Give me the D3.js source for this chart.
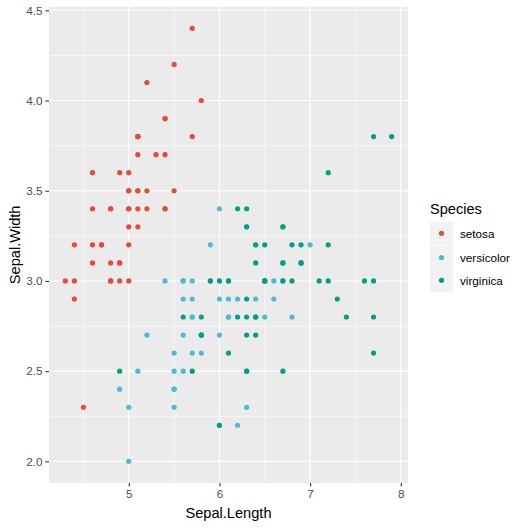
<!DOCTYPE html>
<html><head><meta charset="utf-8">
<script src="https://cdn.jsdelivr.net/npm/d3@7"></script>
<style>body{margin:0;background:#fff}svg{display:block}</style>
</head><body>
<svg id="c" width="528" height="528"></svg>
<script>
const species = ["setosa","versicolor","virginica"];
const colors = ["#E64B35","#4DBBD5","#00A087"];
const setosaLength = [5.1,4.9,4.7,4.6,5.0,5.4,4.6,5.0,4.4,4.9,5.4,4.8,4.8,4.3,5.8,5.7,5.4,5.1,5.7,5.1,5.4,5.1,4.6,5.1,4.8,5.0,5.0,5.2,5.2,4.7,4.8,5.4,5.2,5.5,4.9,5.0,5.5,4.9,4.4,5.1,5.0,4.5,4.4,5.0,5.1,4.8,5.1,4.6,5.3,5.0];
const setosaWidth = [3.5,3.0,3.2,3.1,3.6,3.9,3.4,3.4,2.9,3.1,3.7,3.4,3.0,3.0,4.0,4.4,3.9,3.5,3.8,3.8,3.4,3.7,3.6,3.3,3.4,3.0,3.4,3.5,3.4,3.2,3.1,3.4,4.1,4.2,3.1,3.2,3.5,3.6,3.0,3.4,3.5,2.3,3.2,3.5,3.8,3.0,3.8,3.2,3.7,3.3];
const versicolorLength = [7.0,6.4,6.9,5.5,6.5,5.7,6.3,4.9,6.6,5.2,5.0,5.9,6.0,6.1,5.6,6.7,5.6,5.8,6.2,5.6,5.9,6.1,6.3,6.1,6.4,6.6,6.8,6.7,6.0,5.7,5.5,5.5,5.8,6.0,5.4,6.0,6.7,6.3,5.6,5.5,5.5,6.1,5.8,5.0,5.6,5.7,5.7,6.2,5.1,5.7];
const versicolorWidth = [3.2,3.2,3.1,2.3,2.8,2.8,3.3,2.4,2.9,2.7,2.0,3.0,2.2,2.9,2.9,3.1,3.0,2.7,2.2,2.5,3.2,2.8,2.5,2.8,2.9,3.0,2.8,3.0,2.9,2.6,2.4,2.4,2.7,2.7,3.0,3.4,3.1,2.3,3.0,2.5,2.6,3.0,2.6,2.3,2.7,3.0,2.9,2.9,2.5,2.8];
const virginicaLength = [6.3,5.8,7.1,6.3,6.5,7.6,4.9,7.3,6.7,7.2,6.5,6.4,6.8,5.7,5.8,6.4,6.5,7.7,7.7,6.0,6.9,5.6,7.7,6.3,6.7,7.2,6.2,6.1,6.4,7.2,7.4,7.9,6.4,6.3,6.1,7.7,6.3,6.4,6.0,6.9,6.7,6.9,5.8,6.8,6.7,6.7,6.3,6.5,6.2,5.9];
const virginicaWidth = [3.3,2.7,3.0,2.9,3.0,3.0,2.5,2.9,2.5,3.6,3.2,2.7,3.0,2.5,2.8,3.2,3.0,3.8,2.6,2.2,3.2,2.8,2.8,2.7,3.3,3.2,2.8,3.0,2.8,3.0,2.8,3.8,2.8,2.8,2.6,3.0,3.4,3.1,3.0,3.1,3.1,3.1,2.7,3.2,3.3,3.0,2.5,3.0,3.4,3.0];
const xTicks = [5,6,7,8];
const yTicks = [2.0,2.5,3.0,3.5,4.0,4.5];

const lengths = [setosaLength, versicolorLength, virginicaLength];
const widths = [setosaWidth, versicolorWidth, virginicaWidth];
const points = [];
species.forEach((s,i)=>lengths[i].forEach((v,j)=>points.push({sp:s, c:colors[i], x:v, y:widths[i][j]})));

const svg = d3.select("#c");
const L=49, R=408, T=6.7, B=483;
const xMin=4.3, xMax=7.9, yMin=2.0, yMax=4.4;
const ex=(xMax-xMin)*0.05, ey=(yMax-yMin)*0.05;
const x = d3.scaleLinear().domain([xMin-ex, xMax+ex]).range([L,R]);
const y = d3.scaleLinear().domain([yMin-ey, yMax+ey]).range([B,T]);

svg.append("rect").attr("x",L).attr("y",T).attr("width",R-L).attr("height",B-T).attr("fill","#EBEBEB");
const g = svg.append("g");
// minor grid
const xMinor = d3.range(4.5, 8.01, 1);
const yMinor = d3.range(2.25, 4.51, 0.5);
g.selectAll(".xm").data(xMinor).join("line").attr("x1",d=>x(d)).attr("x2",d=>x(d)).attr("y1",T).attr("y2",B).attr("stroke","#fff").attr("stroke-width",0.55);
g.selectAll(".ym").data(yMinor).join("line").attr("y1",d=>y(d)).attr("y2",d=>y(d)).attr("x1",L).attr("x2",R).attr("stroke","#fff").attr("stroke-width",0.55);
g.selectAll(".xg").data(xTicks).join("line").attr("x1",d=>x(d)).attr("x2",d=>x(d)).attr("y1",T).attr("y2",B).attr("stroke","#fff").attr("stroke-width",1.1);
g.selectAll(".yg").data(yTicks).join("line").attr("y1",d=>y(d)).attr("y2",d=>y(d)).attr("x1",L).attr("x2",R).attr("stroke","#fff").attr("stroke-width",1.1);

svg.append("g").selectAll("circle").data(points).join("circle")
  .attr("cx",d=>x(d.x)).attr("cy",d=>y(d.y)).attr("r",2.6).attr("fill",d=>d.c);

const font = "Arial, 'Liberation Sans', sans-serif";
// axes
const xa = svg.append("g").attr("transform",`translate(0,${B})`)
  .call(d3.axisBottom(x).tickValues(xTicks).tickSize(3.6).tickPadding(3).tickFormat(d3.format("d")));
const ya = svg.append("g").attr("transform",`translate(${L},0)`)
  .call(d3.axisLeft(y).tickValues(yTicks).tickSize(3.6).tickPadding(3).tickFormat(d3.format(".1f")));
[xa,ya].forEach(a=>{
  a.select(".domain").remove();
  a.selectAll(".tick line").attr("stroke","#333").attr("stroke-width",1.1);
  a.selectAll(".tick text").attr("fill","#4D4D4D").style("font-family",font).style("font-size","11.7px");
});

svg.append("text").attr("x",(L+R)/2).attr("y",518).attr("text-anchor","middle")
  .style("font-family",font).style("font-size","14.6px").attr("fill","#000").text("Sepal.Length");
svg.append("text").attr("transform",`translate(20,${(T+B)/2}) rotate(-90)`).attr("text-anchor","middle")
  .style("font-family",font).style("font-size","14.6px").attr("fill","#000").text("Sepal.Width");

// legend
const lg = svg.append("g");
lg.append("text").attr("x",430).attr("y",214).style("font-family",font).style("font-size","14.6px").text("Species");
const keyY = [233.3, 257.5, 280.3];
species.forEach((s,i)=>{
  lg.append("rect").attr("x",430).attr("y",keyY[i]-11.5).attr("width",23).attr("height",23.5).attr("fill","#F2F2F2");
});
species.forEach((s,i)=>{
  lg.append("circle").attr("cx",441.5).attr("cy",keyY[i]).attr("r",2.6).attr("fill",colors[i]);
  lg.append("text").attr("x",460).attr("y",keyY[i]+4.2).style("font-family",font).style("font-size","11.7px").attr("fill","#000").text(s);
});
</script>
</body></html>
